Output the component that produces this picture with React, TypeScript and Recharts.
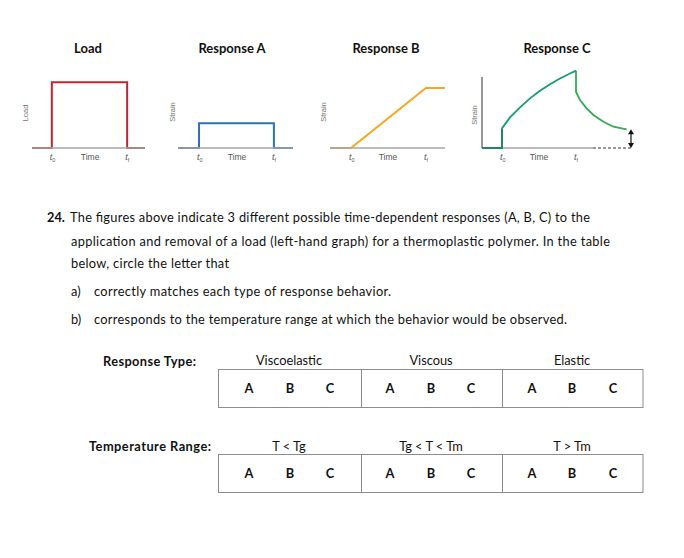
import React from 'react';
import { LineChart, Line, XAxis, YAxis, ReferenceLine } from 'recharts';

const FONT = 'Lato, "Open Sans", sans-serif';
const SMALL_FONT = '"Liberation Sans", Arial, sans-serif';

// ---- Load graph ----
const loadTime = [0, 1, 1, 4.8, 4.8, 5.7];
const loadValue = [0, 0, 0.94, 0.94, 0, 0];
const loadTicks = [1, 2.93, 4.8];

// ---- Response A ----
const aTime = [0, 1, 1, 4.57, 4.57, 5.48];
const aStrain = [0, 0, 0.34, 0.34, 0, 0];
const aTicks = [1, 2.81, 4.57];

// ---- Response B ----
const bTime = [0, 1, 4.57, 5.48];
const bStrain = [0, 0, 0.8, 0.8];
const bTicks = [1, 2.76, 4.57];

// ---- Response C ----
const cBaseTime = [0, 1, 1];
const cBaseStrain = [0, 0, 0.277];
const cCreepTime = [1, 1.4, 1.9, 2.4, 2.9, 3.4, 3.9, 4.4, 4.7];
const cCreepStrain = [0.277, 0.432, 0.573, 0.7, 0.807, 0.9, 0.98, 1.05, 1.09];
const cRecTime = [4.7, 4.7, 4.9, 5.23, 5.57, 6.07, 6.57, 7.23];
const cRecStrain = [1.09, 0.79, 0.676, 0.56, 0.465, 0.37, 0.3, 0.263];
const cTicks = [1, 2.85, 4.7];
const cAxisSolidEnd = 5.55;
const cAxisEnd = 7.45;
const cPermanent = 0.263;

const tickLabels = ['t0', 'Time', 'tf'];

// ---- Text ----
const titles = ['Load', 'Response A', 'Response B', 'Response C'];
const yLabels = ['Load', 'Strain', 'Strain', 'Strain'];
const questionNumber = '24.';
const paragraphLines = [
  'The figures above indicate 3 different possible time-dependent responses (A, B, C) to the',
  'application and removal of a load (left-hand graph) for a thermoplastic polymer. In the table',
  'below, circle the letter that',
];
const itemMarkers = ['a)', 'b)'];
const itemTexts = [
  'correctly matches each type of response behavior.',
  'corresponds to the temperature range at which the behavior would be observed.',
];
const rowLabels = ['Response Type:', 'Temperature Range:'];
const responseTypes = ['Viscoelastic', 'Viscous', 'Elastic'];
const temperatureRanges = ['T < Tg', 'Tg < T < Tm', 'T > Tm'];
const choiceLetters = ['A', 'B', 'C'];

const zip = (ts: number[], vs: number[]) => ts.map((t, i) => ({ t, v: vs[i] }));

function makeTick(ticks: number[]) {
  return (props: any) => {
    const { x, y, payload } = props;
    const i = ticks.findIndex((v) => Math.abs(v - payload.value) < 1e-6);
    const lab = tickLabels[i];
    const by = y + 12;
    if (lab === 'Time') {
      return (
        <text x={x} y={by} textAnchor="middle" fontSize={8.5} fill="#555" fontFamily={SMALL_FONT}>
          Time
        </text>
      );
    }
    return (
      <text x={x - 2} y={by} fontSize={9} fill="#555" fontFamily={SMALL_FONT}>
        <tspan fontStyle="italic">t</tspan>
        <tspan fontSize={5.5} dy={2}>{lab === 't0' ? '0' : 'f'}</tspan>
      </text>
    );
  };
}

const ArrowShape = (p: any) => {
  const { x1, y1, y2 } = p;
  const top = Math.min(y1, y2);
  const bot = Math.max(y1, y2);
  return (
    <g>
      <line x1={x1} y1={top + 2} x2={x1} y2={bot - 2} stroke="#111" strokeWidth={1.2} />
      <path d={`M${x1 - 3},${top + 5} L${x1},${top} L${x1 + 3},${top + 5} Z`} fill="#111" />
      <path d={`M${x1 - 3},${bot - 5} L${x1},${bot} L${x1 + 3},${bot - 5} Z`} fill="#111" />
    </g>
  );
};

const AXIS_GRAY = '#a6a6a6';

export default function App() {
  const abs = (left: number, top: number): React.CSSProperties => ({ position: 'absolute', left, top });

  const xTickProps = { tickLine: false, tickSize: 0, tickMargin: 0, interval: 0 as const, height: 20 };

  return (
    <div style={{ position: 'absolute', left: 0, top: 0, width: 684, height: 558, background: '#fff', overflow: 'hidden' }}>
      <svg width={684} height={558} style={{ position: 'absolute', left: 0, top: 0 }}>
        {/* titles */}
        {[88, 232, 386, 557].map((x, i) => (
          <text key={'t' + i} x={x} y={53} textAnchor="middle" fontFamily={FONT} fontWeight={700} fontSize={13} fill="#111">
            {titles[i]}
          </text>
        ))}
        {/* y labels */}
        {[
          [25, 113],
          [172, 112],
          [323, 112],
          [474, 115],
        ].map(([x, y], i) => (
          <text
            key={'y' + i}
            x={x}
            y={y}
            transform={`rotate(-90 ${x} ${y})`}
            textAnchor="middle"
            dominantBaseline="central"
            fontFamily={SMALL_FONT}
            fontSize={7.5}
            fill="#777"
          >
            {yLabels[i]}
          </text>
        ))}
        {/* paragraph */}
        <text x={47} y={222} fontFamily={FONT} fontWeight={700} fontSize={12.8} fill="#111">
          {questionNumber}
        </text>
        <text x={70} y={222} fontFamily={FONT} fontSize={12.8} fill="#111" textLength={520} lengthAdjust="spacing">
          {paragraphLines[0]}
        </text>
        <text x={71} y={246} fontFamily={FONT} fontSize={12.8} fill="#111" textLength={539} lengthAdjust="spacing">
          {paragraphLines[1]}
        </text>
        <text x={71} y={268} fontFamily={FONT} fontSize={12.8} fill="#111" textLength={158} lengthAdjust="spacing">
          {paragraphLines[2]}
        </text>
        {[296, 324].map((y, i) => (
          <g key={'it' + i}>
            <text x={71} y={y} fontFamily={FONT} fontSize={12.8} fill="#111">
              {itemMarkers[i]}
            </text>
            <text x={94} y={y} fontFamily={FONT} fontSize={12.8} fill="#111" textLength={i === 0 ? 297 : 473} lengthAdjust="spacing">
              {itemTexts[i]}
            </text>
          </g>
        ))}
        {/* tables */}
        {[0, 1].map((r) => {
          const top = r === 0 ? 369 : 454;
          const headY = r === 0 ? 365 : 451;
          const letY = r === 0 ? 393 : 478;
          const labY = r === 0 ? 366 : 451;
          const labX = r === 0 ? 103 : 89;
          const labW = r === 0 ? 93 : 122;
          const heads = r === 0 ? responseTypes : temperatureRanges;
          const cols = [
            [249, 290, 330],
            [390, 431, 471],
            [532, 572, 613],
          ];
          return (
            <g key={'tb' + r}>
              <text x={labX} y={labY} fontFamily={FONT} fontWeight={700} fontSize={12.8} fill="#111" textLength={labW} lengthAdjust="spacing">
                {rowLabels[r]}
              </text>
              <rect x={218.5} y={top + 0.5} width={424.5} height={38} fill="none" stroke="#8c8c8c" strokeWidth={1} />
              <line x1={361.5} x2={361.5} y1={top} y2={top + 39} stroke="#8c8c8c" />
              <line x1={502.5} x2={502.5} y1={top} y2={top + 39} stroke="#8c8c8c" />
              {[289, 431, 572].map((cx, k) => (
                <text key={'h' + k} x={cx} y={headY} textAnchor="middle" fontFamily={FONT} fontSize={12.8} fill="#111">
                  {heads[k]}
                </text>
              ))}
              {cols.map((c, k) =>
                c.map((lx, j) => (
                  <text key={'l' + k + j} x={lx} y={letY} textAnchor="middle" fontFamily={FONT} fontWeight={700} fontSize={12.8} fill="#111">
                    {choiceLetters[j]}
                  </text>
                ))
              )}
            </g>
          );
        })}
      </svg>

      {/* Load */}
      <div style={abs(0, 60)}>
        <LineChart width={170} height={110} margin={{ left: 32, right: 25, top: 18, bottom: 2 }}>
          <XAxis type="number" dataKey="t" domain={[0, 5.7]} ticks={loadTicks} tick={makeTick(loadTicks)} axisLine={{ stroke: AXIS_GRAY, strokeWidth: 1.5 }} {...xTickProps} />
          <YAxis type="number" domain={[0, 1]} width={0} tick={false} tickLine={false} axisLine={{ stroke: AXIS_GRAY, strokeWidth: 1.5 }} />
          <Line data={zip(loadTime, loadValue)} dataKey="v" type="linear" stroke="#c0272d" strokeWidth={2} dot={false} isAnimationActive={false} />
        </LineChart>
      </div>

      {/* Response A */}
      <div style={abs(160, 60)}>
        <LineChart width={160} height={110} margin={{ left: 18, right: 27, top: 15, bottom: 2 }}>
          <XAxis type="number" dataKey="t" domain={[0, 5.48]} ticks={aTicks} tick={makeTick(aTicks)} axisLine={{ stroke: AXIS_GRAY, strokeWidth: 1.5 }} {...xTickProps} />
          <YAxis type="number" domain={[0, 1]} width={0} tick={false} tickLine={false} axisLine={{ stroke: AXIS_GRAY, strokeWidth: 1.5 }} />
          <Line data={zip(aTime, aStrain)} dataKey="v" type="linear" stroke="#2e6fbd" strokeWidth={2} dot={false} isAnimationActive={false} />
        </LineChart>
      </div>

      {/* Response B */}
      <div style={abs(310, 60)}>
        <LineChart width={150} height={110} margin={{ left: 20, right: 15, top: 13, bottom: 2 }}>
          <XAxis type="number" dataKey="t" domain={[0, 5.48]} ticks={bTicks} tick={makeTick(bTicks)} axisLine={{ stroke: AXIS_GRAY, strokeWidth: 1.5 }} {...xTickProps} />
          <YAxis type="number" domain={[0, 1]} width={0} tick={false} tickLine={false} axisLine={{ stroke: '#555', strokeWidth: 1.2 }} />
          <Line data={zip(bTime, bStrain)} dataKey="v" type="linear" stroke="#f7a823" strokeWidth={2} dot={false} isAnimationActive={false} />
        </LineChart>
      </div>

      {/* Response C */}
      <div style={abs(460, 50)}>
        <LineChart width={190} height={120} margin={{ left: 22, right: 19, top: 15, bottom: 2 }}>
          <XAxis type="number" dataKey="t" domain={[0, cAxisEnd]} ticks={cTicks} tick={makeTick(cTicks)} axisLine={false} {...xTickProps} />
          <YAxis type="number" domain={[0, 1.17]} width={0} tick={false} tickLine={false} axisLine={false} />
          <ReferenceLine segment={[{ x: 0, y: 0 }, { x: 0, y: 1 }]} stroke="#555" strokeWidth={1.2} ifOverflow="visible" />
          <ReferenceLine segment={[{ x: 0, y: 0 }, { x: cAxisSolidEnd, y: 0 }]} stroke={AXIS_GRAY} strokeWidth={1.5} ifOverflow="visible" />
          <ReferenceLine segment={[{ x: cAxisSolidEnd, y: 0 }, { x: cAxisEnd, y: 0 }]} stroke="#333" strokeWidth={1.2} strokeDasharray="3 2" ifOverflow="visible" />
          <ReferenceLine segment={[{ x: cAxisEnd, y: 0 }, { x: cAxisEnd, y: cPermanent }]} shape={ArrowShape} ifOverflow="visible" />
          <Line data={zip(cBaseTime, cBaseStrain)} dataKey="v" type="linear" stroke="#1d8a5e" strokeWidth={2} dot={false} isAnimationActive={false} />
          <Line data={zip(cCreepTime, cCreepStrain)} dataKey="v" type="linear" stroke="#1a9a70" strokeWidth={1.8} dot={false} isAnimationActive={false} />
          <Line data={zip(cRecTime, cRecStrain)} dataKey="v" type="linear" stroke="#35a853" strokeWidth={1.8} dot={false} isAnimationActive={false} />
        </LineChart>
      </div>
    </div>
  );
}
